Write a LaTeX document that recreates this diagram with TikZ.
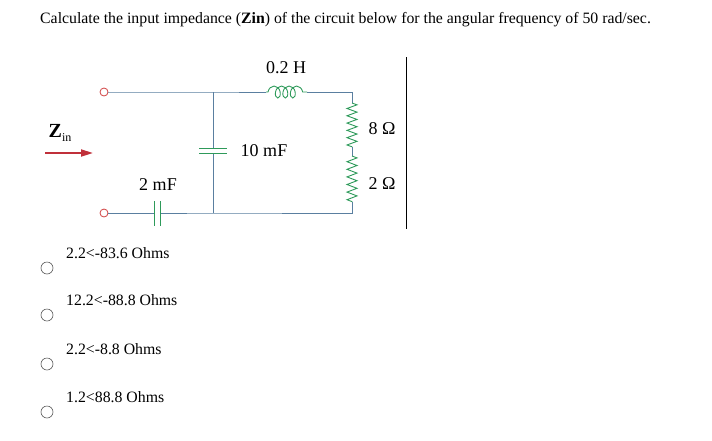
\documentclass[tikz,border=0pt]{standalone}
\usepackage{fontspec}
\setmainfont{Liberation Serif}
\usetikzlibrary{decorations.pathmorphing,arrows.meta}
\definecolor{wire}{HTML}{5A7FA0}
\definecolor{comp}{HTML}{2E9A5A}
\definecolor{term}{HTML}{D04040}
\definecolor{arr}{HTML}{C0303A}
\begin{document}
\begin{tikzpicture}[x=1pt,y=-1pt,
  w/.style={draw=wire,line width=0.8pt},
  c/.style={draw=comp,line width=0.9pt},
  lab/.style={font=\fontsize{18}{20}\selectfont,inner sep=0pt},
  txt/.style={font=\fontsize{15.8}{18}\selectfont,inner sep=0pt,anchor=west},
  radio/.style={circle,draw=gray!70!black,line width=0.6pt,minimum size=12pt,inner sep=0pt}]
\useasboundingbox (0,0) rectangle (712,440);
\node[txt] (title) at (40,20) {Calculate the input impedance (\textbf{Zin}) of the circuit below for the angular frequency of 50 rad/sec.};
\coordinate (tm) at (213,92); \coordinate (li) at (266,92);
\coordinate (lo) at (307,92); \coordinate (tr) at (352,92);
\coordinate (r1) at (352,103); \coordinate (r2) at (352,147); \coordinate (r3) at (352,156); \coordinate (r4) at (352,202);
\coordinate (br) at (352,213); \coordinate (bm) at (213,213);
\coordinate (ca) at (154,213); \coordinate (cb) at (160,213);
\coordinate (cm1) at (213,148); \coordinate (cm2) at (213,153);
\node[circle,draw=term,line width=0.8pt,minimum size=8pt,inner sep=0pt] (T1) at (104,92) {};
\node[circle,draw=term,line width=0.8pt,minimum size=8pt,inner sep=0pt] (T2) at (104,213) {};
\draw[w] (T1) -- (tm) -- (li); \draw[w] (lo) -- (tr) -- (r1);
\draw[w] (r2) -- (r3); \draw[w] (r4) -- (br) -- (bm) -- (cb);
\draw[w] (ca) -- (T2);
\draw[w] (tm) -- (cm1); \draw[w] (cm2) -- (bm);
\draw[c,decorate,decoration={coil,aspect=0.7,segment length=7.5pt,amplitude=6pt,pre length=2pt,post length=2pt}] (li) -- (lo);
\draw[c,decorate,decoration={zigzag,segment length=7.3pt,amplitude=5pt}] (r1) -- (r2);
\draw[c,decorate,decoration={zigzag,segment length=7.6pt,amplitude=5pt}] (r3) -- (r4);
\draw[c] (199,148) -- (227,148); \draw[c] (199,153) -- (227,153);
\draw[c] (154,201) -- (154,226); \draw[c] (160,201) -- (160,226);
\node[lab] (l1) at (286,68) {0.2 H};
\node[lab] (l2) at (382,129) {8 Ω};
\node[lab] (l3) at (264,151) {10 mF};
\node[lab] (l4) at (158,185) {2 mF};
\node[lab] (l5) at (382,184) {2 Ω};
\node[lab] (zin) at (60,133) {\fontsize{20}{20}\selectfont\textbf{Z}\raisebox{-0.4ex}{\fontsize{12}{12}\selectfont in}};
\coordinate (za) at (45,153); \coordinate (zb) at (93,153);
\draw[draw=arr,line width=1.8pt,-{Triangle[length=12pt,width=7pt]}] (za) -- (zb);
\coordinate (v1) at (406,57); \coordinate (v2) at (406,229);
\draw[line width=0.9pt] (v1) -- (v2);
\foreach \i/\y/\t in {1/253/2.2<-83.6 Ohms,2/300/12.2<-88.8 Ohms,3/349/2.2<-8.8 Ohms,4/397/1.2<88.8 Ohms}{
  \node[txt] (o\i) at (66,\y) {\t};
  \node[radio] (r\i) at (47,\y+15) {};
}
\end{tikzpicture}
\end{document}
